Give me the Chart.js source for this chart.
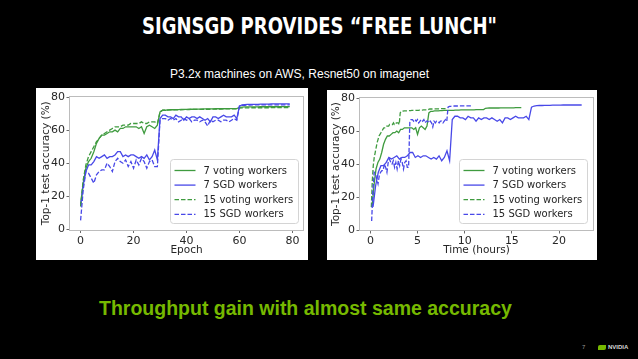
<!DOCTYPE html>
<html>
<head>
<meta charset="utf-8">
<script src="https://cdn.jsdelivr.net/npm/chart.js@4.4.1/dist/chart.umd.min.js"></script>
<style>
  body { margin: 0; width: 638px; height: 359px; background: #000; position: relative; overflow: hidden; }
  .panel { position: absolute; background: #fff; }
  .panel canvas { display: block; }
  .txt { position: absolute; white-space: nowrap; }
  #title { left: 142px; top: 14.5px; font: bold 23px/1 "DejaVu Sans"; color: #fff; transform-origin: 0 0; }
  #subtitle { left: 170px; top: 67.5px; font: 12px/1 "Liberation Sans", Arial, sans-serif; color: #fff; }
  #gain { left: 99px; top: 299px; font: bold 19.5px/1 "Liberation Sans", Arial, sans-serif; color: #76b900; }
  #page { left: 582px; top: 344px; font: 6px/1 "Liberation Sans", Arial, sans-serif; color: #9a9a9a; }
  #logo { left: 598px; top: 344px; font: bold 6px/1 "Liberation Sans", Arial, sans-serif; color: #d8d8d8; }
  #logo .eye { display: inline-block; width: 8px; height: 5px; background: #76b900; border-radius: 2px 0 2px 0; margin-right: 2px; vertical-align: -0.5px; }
</style>
</head>
<body>
<div class="txt" id="title">SIGNSGD PROVIDES “FREE LUNCH"</div>
<div class="txt" id="subtitle">P3.2x machines on AWS, Resnet50 on imagenet</div>

<div class="panel" style="left:36px;top:88px;width:272px;height:172px">
  <canvas id="epochChart" width="272" height="172"></canvas>
</div>
<div class="panel" style="left:327px;top:90px;width:270px;height:170px">
  <canvas id="timeChart" width="270" height="170"></canvas>
</div>

<div class="txt" id="gain">Throughput gain with almost same accuracy</div>
<div class="txt" id="page">7</div>
<div class="txt" id="logo"><span class="eye"></span>NVIDIA</div>

<script>
// top-1 accuracy (%) after each epoch, epochs 0..79 (index = epoch)
const voting7 = [
  15, 28, 37, 41, 43, 47, 52, 55, 57, 57,
  58, 59, 59, 60, 59, 61, 61, 62, 62, 62,
  62, 62, 61, 62, 58, 62, 63, 62, 61, 63,
  71, 72, 72, 72.2, 72.3, 72.3, 72.4, 72.4, 72.5, 72.5,
  72.5, 72.6, 72.6, 72.6, 72.7, 72.7, 72.7, 72.8, 72.8, 72.8,
  72.8, 72.9, 72.9, 72.9, 72.9, 73, 73, 73, 73, 73,
  73.8, 73.9, 74, 74, 74, 74, 74, 74, 74.1, 74.1,
  74.1, 74.1, 74.1, 74.1, 74.1, 74.1, 74.2, 74.2, 74.2, 74.2
];
const sgd7 = [
  14, 27, 35, 39, 39, 41, 44, 43, 44, 45,
  43, 44, 44, 45, 47, 47, 44, 45, 44, 45,
  45, 44, 43, 44, 43, 45, 42, 44, 48, 42,
  67, 69, 69, 68, 68, 67, 69, 68, 68, 66,
  68, 67, 68, 68, 67, 68, 67, 66, 67, 65,
  68, 68, 67, 68, 69, 68, 68, 68, 69, 67,
  74.5, 75.2, 75.4, 75.5, 75.5, 75.6, 75.6, 75.6, 75.7, 75.7,
  75.7, 75.7, 75.8, 75.8, 75.8, 75.8, 75.8, 75.8, 75.8, 75.8
];
const voting15 = [
  14, 30, 39, 44, 47, 50, 53, 55, 57, 58,
  59, 60, 61, 62, 62, 62, 63, 63, 63, 64,
  64, 64, 64, 65, 64, 64, 65, 65, 65, 64,
  71, 72, 72, 72.1, 72.2, 72.2, 72.3, 72.3, 72.3, 72.4,
  72.4, 72.4, 72.5, 72.5, 72.5, 72.5, 72.6, 72.6, 72.6, 72.6,
  72.7, 72.7, 72.7, 72.7, 72.8, 72.8, 72.8, 72.8, 72.8, 72.8,
  73.3, 73.4, 73.4, 73.4, 73.5, 73.5, 73.5, 73.5, 73.5, 73.5,
  73.5, 73.5, 73.6, 73.6, 73.6, 73.6, 73.6, 73.6, 73.6, 73.6
];
const sgd15 = [
  5.5, 24, 35, 34, 31, 28, 33, 35, 36, 36,
  40, 38, 35, 41, 43, 41, 40, 42, 38, 41,
  37, 42, 39, 43, 41, 37, 41, 42, 38, 38,
  66, 67, 67, 66, 67, 66, 67, 65, 66, 67,
  66, 67, 65, 66, 66, 65, 66, 65, 62.5, 66,
  65, 66, 66, 65, 66, 66, 65, 66, 67, 66,
  74.5, 75, 75, 75.1, 75.1, 75.2, 75.2, 75.2, 75.2, 75.3,
  75.3, 75.3, 75.3, 75.3, 75.3, 75.3, 75.3, 75.3, 75.3, 75.3
];

const seriesLabels = ['7 voting workers', '7 SGD workers', '15 voting workers', '15 SGD workers'];
const accuracy = [voting7, sgd7, voting15, sgd15];
// wall-clock hours per epoch for each run
const hoursPerEpoch = [0.2, 0.28, 0.102, 0.135];

const epochTicks = [0, 20, 40, 60, 80];
const hourTicks = [0, 5, 10, 15, 20];
const accTicks = [0, 20, 40, 60, 80];

const seriesColors = ['#3f9b3f', '#4848e8', '#3f9b3f', '#4848e8'];
const seriesDashed = [false, false, true, true];

const textColor = '#262626';

const frame = {
  id: 'frame',
  afterDatasetsDraw(chart) {
    const a = chart.chartArea, ctx = chart.ctx;
    ctx.save();
    ctx.strokeStyle = '#bcbcbc';
    ctx.lineWidth = 1;
    ctx.strokeRect(Math.round(a.left) - 0.5, Math.round(a.top) - 0.5,
                   Math.round(a.right - a.left) + 1, Math.round(a.bottom - a.top) + 1);
    ctx.restore();
  }
};

const boxLegend = {
  id: 'boxLegend',
  afterDraw(chart, args, opts) {
    const ctx = chart.ctx, a = chart.chartArea;
    const w = 128, h = 64;
    const x0 = Math.round(a.right - opts.right - w) + 0.5;
    const y0 = Math.round(a.bottom - opts.bottom - h) + 0.5;
    ctx.save();
    ctx.fillStyle = 'rgba(255,255,255,0.85)';
    ctx.strokeStyle = '#d4d4d4';
    ctx.lineWidth = 1;
    ctx.beginPath();
    ctx.roundRect(x0, y0, w, h, 3);
    ctx.fill();
    ctx.stroke();
    ctx.font = '10px "DejaVu Sans"';
    ctx.textBaseline = 'middle';
    chart.data.datasets.forEach((ds, k) => {
      const y = y0 + 11 + k * 14.6;
      ctx.strokeStyle = ds.borderColor;
      ctx.lineWidth = ds.borderWidth;
      ctx.setLineDash(ds.borderDash);
      ctx.beginPath();
      ctx.moveTo(x0 + 4, y);
      ctx.lineTo(x0 + 25, y);
      ctx.stroke();
      ctx.setLineDash([]);
      ctx.fillStyle = textColor;
      ctx.fillText(ds.label, x0 + 33, y + 0.5);
    });
    ctx.restore();
  }
};

function buildDatasets(xOf) {
  return accuracy.map((vals, k) => ({
    label: seriesLabels[k],
    data: vals.map((v, i) => ({ x: xOf(k, i), y: v })),
    borderColor: seriesColors[k],
    borderWidth: 1.3,
    borderDash: seriesDashed[k] ? [4.5, 2] : [],
    pointRadius: 0,
    fill: false,
    tension: 0,
    order: 3 - k
  }));
}

function chartOptions(p) {
  return {
    responsive: false,
    animation: false,
    devicePixelRatio: 1,
    layout: { padding: { left: 0, top: p.top, right: p.right, bottom: 0 } },
    plugins: {
      legend: { display: false },
      tooltip: { enabled: false },
      boxLegend: { right: p.legendRight, bottom: p.legendBottom }
    },
    scales: {
      x: {
        type: 'linear',
        min: p.xMin,
        max: p.xMax,
        afterBuildTicks: s => { s.ticks = p.xTicks.map(v => ({ value: v })); },
        afterFit: s => { s.height = p.xHeight; },
        grid: { drawOnChartArea: false, tickLength: 3.5, color: '#6a6a6a' },
        border: { display: false },
        ticks: { font: { family: 'DejaVu Sans', size: 11 }, color: textColor, padding: 1.5, maxRotation: 0, autoSkip: false },
        title: { display: true, text: p.xTitle, font: { family: 'DejaVu Sans', size: 10.5 }, color: textColor, padding: { top: 0, bottom: 3 } }
      },
      y: {
        min: 0,
        max: 80,
        afterBuildTicks: s => { s.ticks = accTicks.map(v => ({ value: v })); },
        afterFit: s => { s.width = p.yWidth; },
        grid: { drawOnChartArea: false, tickLength: 3.5, color: '#6a6a6a' },
        border: { display: false },
        ticks: { font: { family: 'DejaVu Sans', size: 11 }, color: textColor, padding: 1.5 },
        title: { display: true, text: 'Top-1 test accuracy (%)', font: { family: 'DejaVu Sans', size: 10.5 }, color: textColor, padding: { top: p.yTitlePad, bottom: 0 } }
      }
    }
  };
}

new Chart(document.getElementById('epochChart'), {
  type: 'line',
  data: { datasets: buildDatasets((k, i) => i) },
  options: chartOptions({
    top: 9, right: 5, xHeight: 30.5, yWidth: 34, yTitlePad: 3.7,
    xMin: -4, xMax: 84, xTicks: epochTicks, xTitle: 'Epoch',
    legendRight: 5, legendBottom: 6.5
  }),
  plugins: [frame, boxLegend]
});

new Chart(document.getElementById('timeChart'), {
  type: 'line',
  data: { datasets: buildDatasets((k, i) => (i + 1) * hoursPerEpoch[k]) },
  options: chartOptions({
    top: 8, right: 4, xHeight: 30, yWidth: 33, yTitlePad: 2.7,
    xMin: -1.1, xMax: 23.6, xTicks: hourTicks, xTitle: 'Time (hours)',
    legendRight: 6, legendBottom: 7
  }),
  plugins: [frame, boxLegend]
});

// squeeze the headline to the width it has on the slide
const title = document.getElementById('title');
title.style.transform = 'scaleX(' + (355 / title.getBoundingClientRect().width) + ')';
</script>
</body>
</html>
